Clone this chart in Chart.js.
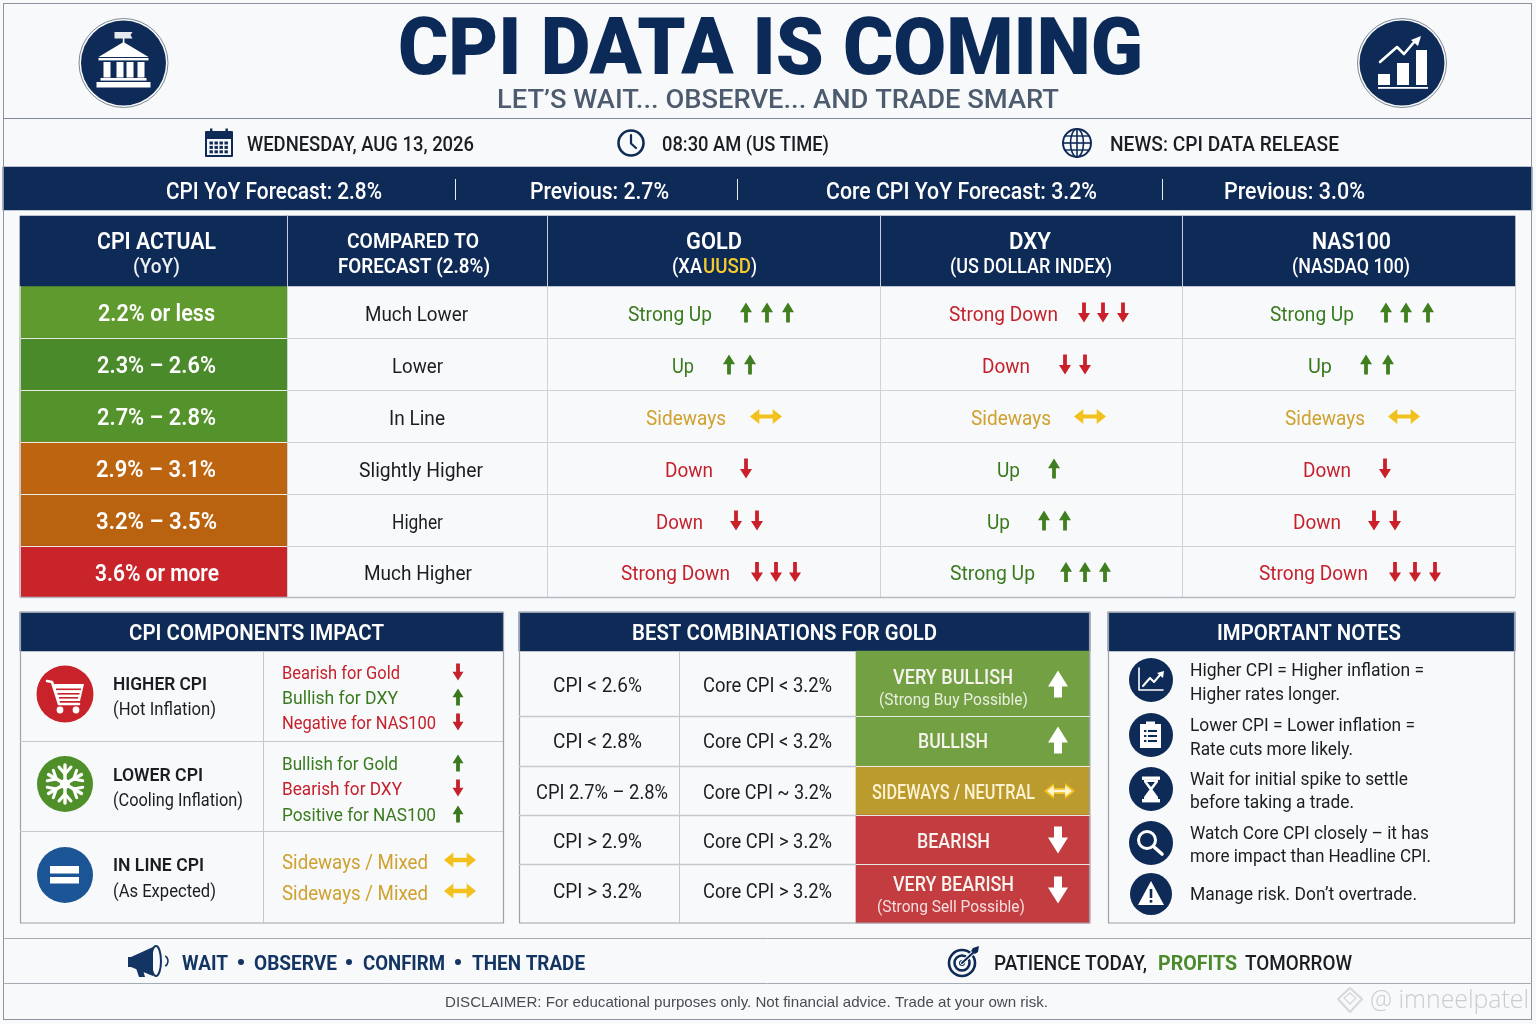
<!DOCTYPE html>
<html><head><meta charset="utf-8">
<style>html,body{margin:0;padding:0;background:#f8f9fa}canvas{display:block}</style>
<script src="https://cdn.jsdelivr.net/npm/chart.js@4/dist/chart.umd.min.js"></script>
</head><body><div style="position:relative;width:1536px;height:1024px"><canvas id="c" width="1536" height="1024"></canvas></div>
<script>
// ---------- content ----------
const cpiRows=["2.2% or less","2.3% – 2.6%","2.7% – 2.8%","2.9% – 3.1%","3.2% – 3.5%","3.6% or more"];
const compareRows=["Much Lower","Lower","In Line","Slightly Higher","Higher","Much Higher"];
const goldCalls=["Strong Up","Up","Sideways","Down","Down","Strong Down"];
const dxyCalls=["Strong Down","Down","Sideways","Up","Up","Strong Up"];
const nasCalls=["Strong Up","Up","Sideways","Down","Down","Strong Down"];
const goldArrows=[3,2,0,-1,-2,-3];
const dxyArrows=[-3,-2,0,1,2,3];
const nasArrows=[3,2,0,-1,-2,-3];
const cpiColors=["#5f9a2e","#4a8a2a","#54932b","#bc640f","#b9620f","#c8242a"];
const comboCpi=["CPI < 2.6%","CPI < 2.8%","CPI 2.7% – 2.8%","CPI > 2.9%","CPI > 3.2%"];
const comboCore=["Core CPI < 3.2%","Core CPI < 3.2%","Core CPI ~ 3.2%","Core CPI > 3.2%","Core CPI > 3.2%"];
const comboSignal=["VERY BULLISH","BULLISH","SIDEWAYS / NEUTRAL","BEARISH","VERY BEARISH"];
const comboNote=["(Strong Buy Possible)","","","","(Strong Sell Possible)"];
const comboArrows=[1,1,0,-1,-1];
const comboColors=["#72a043","#72a043","#bb9a2e","#c23c40","#c23c40"];
// ---------- layout ----------
const mainCols=[20,287,547,880,1182,1515];
const mainRows=[286,338,390,442,494,546,597];
const comboCols=[519,679,856,1090];
const comboRowsY=[651,716,766,815,864,923];
const NAVY="#0e2a56",GREEN="#3a7a1e",RED="#c5212c",AMBER="#cfa12e",YEL="#f2c11e",INK="#1b1d22";
function barSet(col0,col1,cells,colors){
  return {type:'bar',stack:'s',barThickness:col1-col0,backgroundColor:colors,borderWidth:0,
    data:cells.map(c=>({x:(col0+col1)/2,y:c}))};
}
const sets=[];
sets.push(barSet(3,1532,[[167,210]],NAVY));
for(let i=0;i<5;i++)sets.push(barSet(mainCols[i],mainCols[i+1],[[216,286]],NAVY));
sets.push(barSet(mainCols[0],mainCols[1],cpiRows.map((_,r)=>[mainRows[r],mainRows[r+1]]),cpiColors));
sets.push(barSet(comboCols[2],comboCols[3],comboSignal.map((_,r)=>[comboRowsY[r],comboRowsY[r+1]]),comboColors));
sets.push(barSet(20,503,[[612,651]],NAVY));
sets.push(barSet(519,1090,[[612,651]],NAVY));
sets.push(barSet(1108,1515,[[612,651]],NAVY));

let ctx,SX,SY;
function T(s,x0,x1,cy,size,weight,color,fam){
  fam=fam||'Roboto';
  ctx.save();
  ctx.font=`${weight} ${size}px "${fam}"`;
  ctx.fillStyle=color;ctx.textAlign='left';ctx.textBaseline='alphabetic';
  const m=ctx.measureText(s).width,a=SX(x0);
  ctx.translate(a,SY(cy)+size*0.355+0.6);
  ctx.scale((SX(x1)-a)/m,1);
  ctx.fillText(s,0,0);
  ctx.restore();
}
function L(x0,y0,x1,y1,col,w){ctx.strokeStyle=col;ctx.lineWidth=w||1;ctx.beginPath();ctx.moveTo(x0,y0);ctx.lineTo(x1,y1);ctx.stroke();}
function R(x,y,w,h,c){ctx.fillStyle=c;ctx.fillRect(x,y,w,h);}
function Dot(x,y,r,c){ctx.fillStyle=c;ctx.beginPath();ctx.arc(x,y,r,0,Math.PI*2);ctx.fill();}
function Ring(x,y,r,c,w){ctx.strokeStyle=c;ctx.lineWidth=w;ctx.beginPath();ctx.arc(x,y,r,0,Math.PI*2);ctx.stroke();}
function Poly(p,c){ctx.fillStyle=c;ctx.beginPath();p.forEach((q,i)=>i?ctx.lineTo(q[0],q[1]):ctx.moveTo(q[0],q[1]));ctx.closePath();ctx.fill();}
function Path(p,c,w){ctx.strokeStyle=c;ctx.lineWidth=w;ctx.lineJoin='round';ctx.lineCap='round';ctx.beginPath();p.forEach((q,i)=>i?ctx.lineTo(q[0],q[1]):ctx.moveTo(q[0],q[1]));ctx.stroke();ctx.lineCap='butt';}
function Arrow(x,cy,dir,c,h,w,sw){
  h=h||20;w=w||12;sw=sw||3.8;const d=-dir,hl=w*0.8,t=cy+d*h/2,b=cy-d*h/2,n=t-d*hl;
  Poly([[x,t],[x+w/2,n],[x+sw/2,n],[x+sw/2,b],[x-sw/2,b],[x-sw/2,n],[x-w/2,n]],c);
}
function DArrow(x0,x1,cy,c,hw,sw){
  hw=hw||15;sw=sw||4;const hl=hw*0.62;
  Poly([[x0,cy],[x0+hl,cy-hw/2],[x0+hl,cy-sw/2],[x1-hl,cy-sw/2],[x1-hl,cy-hw/2],[x1,cy],[x1-hl,cy+hw/2],[x1-hl,cy+sw/2],[x0+hl,cy+sw/2],[x0+hl,cy+hw/2]],c);
}
function Calls(labels,arrows,spans,ax){
  labels.forEach((s,r)=>{
    const cy=(mainRows[r]+mainRows[r+1])/2+0.6;
    const a=arrows[r],c=a>0?GREEN:a<0?RED:AMBER;
    T(s,spans[r][0],spans[r][1],cy,21,400,c);
    if(a===0)DArrow(ax[r][0]-16,ax[r][0]+16,cy,YEL);
    else ax[r].forEach(x=>Arrow(x,cy,a>0?1:-1,a>0?"#3f7f20":"#c9202a"));
  });
}
const iconPlugin={id:'sheet',afterDatasetsDraw(chart){
  ctx=chart.ctx;SX=v=>chart.scales.x.getPixelForValue(v);SY=v=>chart.scales.y.getPixelForValue(v);
  ctx.save();
  // frame & rules
  ctx.strokeStyle="#8d949f";ctx.lineWidth=1;ctx.strokeRect(3.5,3.5,1528,1016);
  L(3,118.5,1532,118.5,"#7f8896",1.2);L(3,938.5,1532,938.5,"#a5abb4",1);L(3,983.5,1532,983.5,"#a5abb4",1);
  // header
  T("CPI DATA IS COMING",398,1143,45,79,900,"#0c2a58");
  T("LET’S WAIT... OBSERVE... AND TRADE SMART",497,1059,98,26,500,"#4d5b6e");
  // bank
  Ring(123.5,63,44.5,"#7d8794",1);Dot(123.5,63,42.5,NAVY);
  const W="#ffffff",bx=123.5;
  R(bx-.7,33,1.6,10,W);Poly([[bx-9,32],[bx+9,32],[bx+7,35],[bx+9,38.5],[bx-9,38.5]],"#e6e9ee");
  Poly([[bx,42],[bx+25,57],[bx-25,57]],W);R(bx-25,58,50,2.4,W);
  [-20,-7,3,14].forEach(o=>R(bx+o,62,7,15.5,W));
  R(bx-23,78,46,2.6,W);R(bx-27,82,54,5.5,W);
  // chart icon
  const ca=1402;Ring(ca,63,44.5,"#7d8794",1);Dot(ca,63,42.5,NAVY);
  R(1378,74,12,11,W);R(1397,63,12,22,W);R(1416,50,11,35,W);R(1378,87,50,1.8,W);
  Path([[1380,62],[1397,47],[1404,54],[1415,41]],W,2.6);Poly([[1421,36],[1418,46],[1411,40]],W);
  // info line
  T("WEDNESDAY, AUG 13, 2026",247,474,143,21,500,INK);
  T("08:30 AM (US TIME)",662,829,143,21,500,INK);
  T("NEWS: CPI DATA RELEASE",1110,1339,143,21,500,INK);
  // calendar
  ctx.strokeStyle=NAVY;ctx.lineWidth=2;ctx.strokeRect(206,132,26,24);R(206,132,26,7,NAVY);
  R(210,128.5,2.4,6,NAVY);R(225.5,128.5,2.4,6,NAVY);
  for(let a=0;a<4;a++)for(let b=0;b<3;b++)R(209.5+a*5,141.5+b*4.4,3.4,3,NAVY);
  // clock
  Ring(631,143,12.5,NAVY,2.6);Path([[631,135],[631,143.5],[636,148]],NAVY,2.2);
  // globe
  Ring(1077,143,14,NAVY,2);L(1063,143,1091,143,NAVY,1.6);L(1065,136,1089,136,NAVY,1.4);L(1065,150,1089,150,NAVY,1.4);L(1077,129,1077,157,NAVY,1.6);
  ctx.strokeStyle=NAVY;ctx.lineWidth=1.6;ctx.beginPath();ctx.ellipse(1077,143,6.5,14,0,0,Math.PI*2);ctx.stroke();
  // strip
  T("CPI YoY Forecast: 2.8%",166,382,190,23,500,W);
  T("Previous: 2.7%",530,669,190,23,500,W);
  T("Core CPI YoY Forecast: 3.2%",826,1097,190,23,500,W);
  T("Previous: 3.0%",1224,1365,190,23,500,W);
  [455.5,737.5,1162.5].forEach(x=>L(x,179,x,200,"#e8ebf0",1));
  // main table
  mainCols.slice(1,-1).forEach(x=>L(x+.5,216,x+.5,286,"#c6ccd6",1));
  T("CPI ACTUAL",97,216,240,23,600,W);T("(YoY)",133,180,265,20,500,"#eef0f4");
  T("COMPARED TO",347,479,240,21,600,W);T("FORECAST (2.8%)",338,490,265,20,600,W);
  T("GOLD",686,742,240,23,600,W);
  T("(XA",672,702,265,20,500,W);T("UUSD",703,751,265,20,500,"#f3cb2e");T(")",751,757,265,20,500,W);
  T("DXY",1009,1051,240,23,600,W);T("(US DOLLAR INDEX)",950,1112,265,20,500,W);
  T("NAS100",1312,1391,240,23,600,W);T("(NASDAQ 100)",1292,1410,265,20,500,W);
  mainRows.slice(1,-1).forEach(y=>{L(287,y+.5,1515,y+.5,"#ced3d9",1);L(20,y+.5,287,y+.5,"#e8ece2",1);});
  mainCols.slice(1).forEach(x=>L(x+.5,286,x+.5,597,"#ced3d9",1));
  L(20,597.5,1515,597.5,"#b5bbc3",1.6);L(20.5,286,20.5,597,"#c5cad1",1);
  const cpiSp=[[98,215],[97,216],[97,216],[96,216],[96,217],[95,219]];
  cpiRows.forEach((s,r)=>T(s,cpiSp[r][0],cpiSp[r][1],(mainRows[r]+mainRows[r+1])/2+.6,23,600,W));
  const cmpSp=[[365,468],[392,443],[389,445],[359,483],[392,443],[364,472]];
  compareRows.forEach((s,r)=>T(s,cmpSp[r][0],cmpSp[r][1],(mainRows[r]+mainRows[r+1])/2+.6,21,400,INK));
  Calls(goldCalls,goldArrows,[[628,712],[672,694],[646,726],[665,713],[656,703],[621,730]],
    [[746,767,788],[729,750],[766],[746],[736,757],[757,776,795]]);
  Calls(dxyCalls,dxyArrows,[[949,1058],[982,1030],[971,1051],[997,1020],[987,1010],[950,1035]],
    [[1084,1103,1123],[1065,1085],[1090],[1054],[1044,1065],[1066,1085,1105]]);
  Calls(nasCalls,nasArrows,[[1270,1354],[1308,1332],[1285,1365],[1303,1351],[1293,1341],[1259,1368]],
    [[1386,1406,1428],[1366,1388],[1404],[1385],[1374,1395],[1395,1415,1435]]);
  // panel frames
  const fr="#9aa2ad";
  ctx.strokeStyle=fr;ctx.lineWidth=1.2;
  ctx.strokeRect(20.5,612.5,483,310.5);ctx.strokeRect(519.5,612.5,570,310.5);ctx.strokeRect(1108.5,612.5,406,310.5);
  T("CPI COMPONENTS IMPACT",129,384,632,22,600,W);
  T("BEST COMBINATIONS FOR GOLD",632,937,632,22,600,W);
  T("IMPORTANT NOTES",1217,1401,632,22,600,W);
  // components
  const g="#c4c9d0";
  L(263.5,651,263.5,923,g,1);L(20,741.5,503,741.5,g,1.2);L(20,831.5,503,831.5,g,1.2);
  Dot(65,694,28.5,"#c8232a");Dot(65,784,28,"#4e8f2a");Dot(65,875,28,"#1c5596");
  // cart
  Path([[47,681],[52,682],[59,704],[79,704]],W,2.6);
  Poly([[52.5,684],[84,684],[80,701],[58,701]],W);
  [[56,688.5,25],[57.5,693,22],[59,697,19]].forEach(a=>R(a[0],a[1],a[2],1.6,"#c8232a"));
  Dot(60,710,3.4,W);Dot(76,710,3.4,W);
  // snowflake
  for(let k=0;k<6;k++){const a=k*Math.PI/3-Math.PI/2,cs=Math.cos(a),sn=Math.sin(a);
    const P=(r,o)=>[65+cs*r-sn*o,784+sn*r+cs*o];
    Path([P(0,0),P(19,0)],W,3.4);Path([P(10,0),P(17,-6)],W,3);Path([P(10,0),P(17,6)],W,3);}
  Dot(65,784,5,W);
  // equals
  R(50,866,29,7.5,W);R(50,877,29,6.5,W);
  T("HIGHER CPI",113,207,683,18,600,INK);T("(Hot Inflation)",113,216,708,18,400,INK);
  T("LOWER CPI",113,203,774,18,600,INK);T("(Cooling Inflation)",113,243,799,18,400,INK);
  T("IN LINE CPI",113,204,864,18,600,INK);T("(As Expected)",113,216,890,18,400,INK);
  T("Bearish for Gold",282,400,672,19,400,RED);Arrow(458,672,-1,RED,17,11);
  T("Bullish for DXY",282,398,697,19,400,GREEN);Arrow(458,697,1,GREEN,17,11);
  T("Negative for NAS100",282,436,722,19,400,RED);Arrow(458,722,-1,RED,17,11);
  T("Bullish for Gold",282,398,763,19,400,GREEN);Arrow(458,763,1,GREEN,17,11);
  T("Bearish for DXY",282,402,788,19,400,RED);Arrow(458,788,-1,RED,17,11);
  T("Positive for NAS100",282,436,814,19,400,GREEN);Arrow(458,814,1,GREEN,17,11);
  T("Sideways / Mixed",282,428,861,21,400,AMBER);DArrow(444,476,860,YEL,15,4.4);
  T("Sideways / Mixed",282,428,892,21,400,AMBER);DArrow(444,476,891,YEL,15,4.4);
  // combos
  comboRowsY.slice(1,-1).forEach(y=>{L(519,y+.5,856,y+.5,g,1.4);L(856,y+.5,1090,y+.5,"#e6e8e4",1);});
  L(679.5,651,679.5,923,g,1);
  const cp=[[553,642],[553,642],[536,668],[553,642],[553,642]];
  comboCpi.forEach((s,r)=>{const cy=[684,740,791,840,890][r];
    T(s,cp[r][0],cp[r][1],cy,20.5,400,INK);T(comboCore[r],703,832,cy,20.5,400,INK);
    if(comboArrows[r]===0){DArrow(1044,1075,cy,YEL,16,6);DArrow(1047,1072,cy,"#fff6d6",11,2.6);}
    else Arrow(1058,cy,comboArrows[r],W,27,20,8);
  });
  const sp=[[893,1013],[918,988],[872,1035],[917,990],[893,1014]],sy=[676,740,791,840,883];
  comboSignal.forEach((s,r)=>T(s,sp[r][0],sp[r][1],sy[r],21,500,r===2?"#fdf3d2":"#f6f3ee"));
  T(comboNote[0],879,1028,698,17,400,"#e9eedf");T(comboNote[4],877,1025,905,17,400,"#f6dedf");
  // notes
  [680,735,789,843].forEach(y=>Dot(1151,y,22,NAVY));Dot(1151,894,21,NAVY);
  Path([[1139,668],[1139,690],[1163,690]],W,1.6);
  Path([[1143,686],[1150,678],[1154,682],[1160,675]],W,2);Poly([[1164,671],[1163,678],[1157,673]],W);
  R(1140,724,21,24,W);R(1146,721.5,9,5,W);[730,735,740].forEach(y=>{R(1144,y,2.4,2,NAVY);R(1148,y,9,2,NAVY);});
  R(1142,776.5,18,3.4,W);R(1142,799,18,3.4,W);
  Poly([[1144,780],[1158,780],[1158,782],[1152.5,789.5],[1158,797],[1158,799],[1144,799],[1144,797],[1149.5,789.5],[1144,782]],W);
  Poly([[1147,782],[1155,782],[1151,787]],NAVY);
  Ring(1147,840,8.5,W,3);Path([[1153.5,846.5],[1162,854]],W,3.6);
  Poly([[1151,881],[1164,905],[1138,905]],W);R(1149.7,889,2.6,9,NAVY);R(1149.7,900,2.6,2.6,NAVY);
  const N=[["Higher CPI = Higher inflation =",1424,669],["Higher rates longer.",1340,693],["Lower CPI = Lower inflation =",1415,724],["Rate cuts more likely.",1353,748],["Wait for initial spike to settle",1408,778],["before taking a trade.",1354,801],["Watch Core CPI closely – it has",1429,832],["more impact than Headline CPI.",1431,855],["Manage risk. Don’t overtrade.",1417,893]];
  N.forEach(n=>T(n[0],1190,n[1],n[2],18.5,400,INK));
  // footer
  Poly([[131,957],[153,947],[153,976],[131,967]],"#143463");R(128,957,6,10,"#143463");Poly([[136,968],[143,970],[145,977],[139,977]],"#143463");
  ctx.strokeStyle="#143463";ctx.lineWidth=2;ctx.beginPath();ctx.ellipse(156,961,5,15,0,0,Math.PI*2);ctx.stroke();
  ctx.lineWidth=1.6;ctx.beginPath();ctx.arc(162,961,6,-1,1);ctx.stroke();
  const F="#143463";
  T("WAIT",182,228,962,20,700,F);Dot(241,962,3,F);T("OBSERVE",254,337,962,20,700,F);Dot(349,962,3,F);
  T("CONFIRM",363,445,962,20,700,F);Dot(458,962,3,F);T("THEN TRADE",472,585,962,20,700,F);
  Ring(962,963,13,NAVY,2.6);Ring(962,963,7.5,NAVY,2.6);Dot(962,963,3,NAVY);
  Path([[962,963],[976,950]],"#f8f9fa",4);Path([[962,963],[975,951]],NAVY,2);Poly([[973,948],[979,946],[978,952],[975,954],[971,951]],NAVY);
  T("PATIENCE TODAY,",994,1147,962,20,500,INK);T("PROFITS",1158,1237,962,20,700,"#4a8a2a");T("TOMORROW",1245,1352,962,20,500,INK);
  T("DISCLAIMER: For educational purposes only. Not financial advice. Trade at your own risk.",445,1048,1001,15,400,"#484c53","Liberation Sans");
  // watermark
  ctx.strokeStyle="#d5d8dc";ctx.lineWidth=2;ctx.beginPath();ctx.moveTo(1338,999);ctx.lineTo(1350,988);ctx.lineTo(1362,999);ctx.lineTo(1350,1012);ctx.closePath();ctx.stroke();
  ctx.lineWidth=1.4;ctx.beginPath();ctx.moveTo(1344,998);ctx.lineTo(1350,993);ctx.lineTo(1356,998);ctx.lineTo(1350,1004);ctx.closePath();ctx.stroke();
  T("@ imneelpatel",1370,1529,999,25,300,"#c9cdd2","Open Sans");
  ctx.restore();
}};
new Chart(document.getElementById('c'),{
  data:{datasets:sets},
  plugins:[iconPlugin],
  options:{responsive:false,animation:false,devicePixelRatio:1,
    layout:{padding:0},
    plugins:{legend:{display:false},tooltip:{enabled:false},title:{display:false}},
    scales:{
      x:{type:'linear',min:0,max:1536,display:false,offset:false,stacked:true,grid:{display:false}},
      y:{type:'linear',min:0,max:1024,reverse:true,display:false,stacked:false,beginAtZero:false,grid:{display:false}}
    }}
});
</script></body></html>
